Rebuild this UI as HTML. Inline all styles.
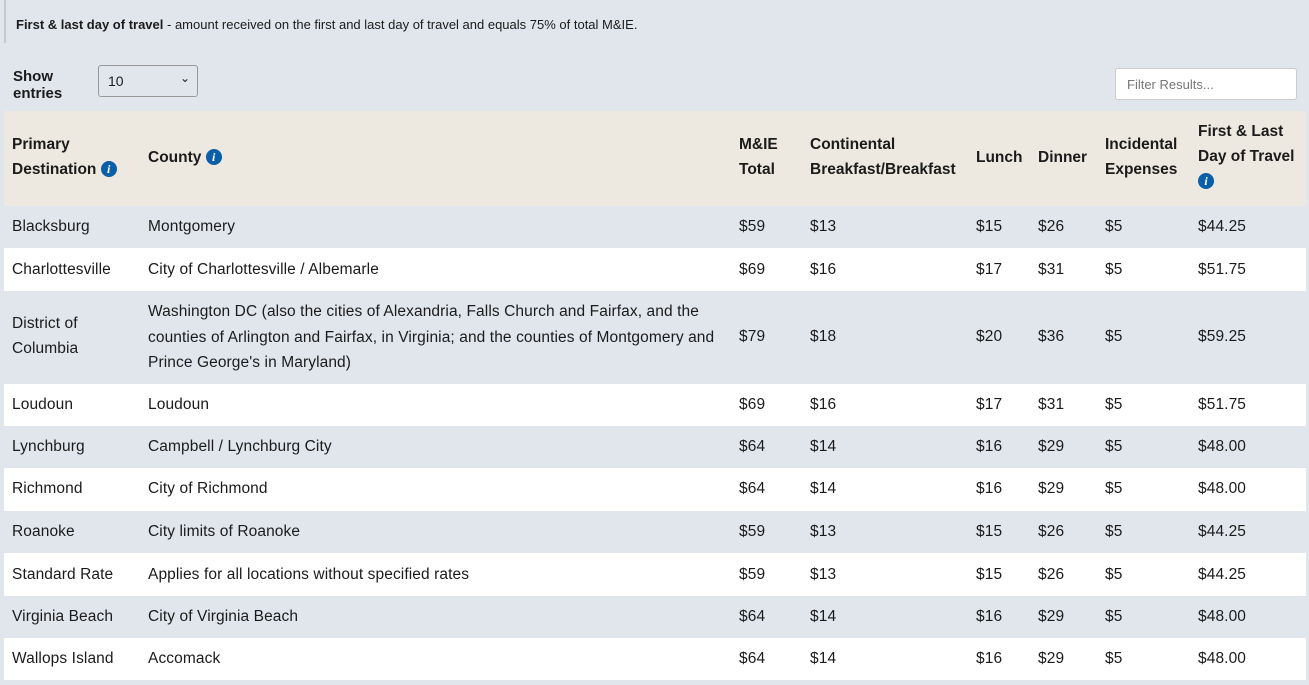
<!DOCTYPE html>
<html><head><style>
body{margin:0;width:1309px;height:685px;background:#e1e6ed;font-family:"Liberation Sans",sans-serif;color:#1b1b1b;position:relative;overflow:hidden}
.a{position:absolute}
.note{left:4px;top:0;width:1300px;height:43px;border-left:2px solid #c8c8c8;font-size:13px;letter-spacing:0px}
.note span{position:absolute;left:10px;top:17px;white-space:nowrap}
.row{position:absolute;left:4px;width:1302px}
.t{position:absolute;font-size:15.5px;letter-spacing:0.1px;white-space:nowrap}
.h{position:absolute;font-size:15.5px;font-weight:bold;letter-spacing:0px;line-height:25px}
.i{display:inline-block;width:16px;height:16px;border-radius:50%;background:#0b5ea8;color:#fff;font-size:12px;font-weight:bold;font-style:italic;text-align:center;line-height:16px;font-family:"Liberation Serif",serif;vertical-align:1px}
</style></head><body>
<div class="a note"><span><b>First &amp; last day of travel</b> - amount received on the first and last day of travel and equals 75% of total M&amp;IE.</span></div>
<div class="a" style="left:13px;top:68px;font-size:15px;font-weight:bold;line-height:17px">Show<br>entries</div>
<div class="a" style="left:98px;top:65px;width:98px;height:30px;border:1px solid #999;border-radius:3px;background:#e1e6ed;font-size:14px"><span style="position:absolute;left:9px;top:7px">10</span><span style="position:absolute;right:7px;top:5px;font-size:12px">&#8964;</span></div>
<div class="a" style="left:1115px;top:68px;width:180px;height:30px;border:1px solid #ccc;border-radius:3px;background:#fff;font-size:13px;color:#777"><span style="position:absolute;left:11px;top:8px">Filter Results...</span></div>

<div class="row" style="top:111px;height:95px;background:#ede9e0">
<div class="h" style="left:8px;top:21px">Primary<br>Destination <span class="i">i</span></div>
<div class="h" style="left:144px;top:34px">County <span class="i">i</span></div>
<div class="h" style="left:735px;top:21px">M&amp;IE<br>Total</div>
<div class="h" style="left:806px;top:21px">Continental<br>Breakfast/Breakfast</div>
<div class="h" style="left:972px;top:34px">Lunch</div>
<div class="h" style="left:1034px;top:34px">Dinner</div>
<div class="h" style="left:1101px;top:21px">Incidental<br>Expenses</div>
<div class="h" style="left:1194px;top:8px">First &amp; Last<br>Day of Travel<br><span class="i">i</span></div>
</div>

<div class="row" style="top:206px;height:42px;background:#e1e6ed"><div class="t" style="left:8px;top:12px">Blacksburg</div><div class="t" style="left:144px;top:12px">Montgomery</div><div class="t" style="left:735px;top:12px">$59</div><div class="t" style="left:806px;top:12px">$13</div><div class="t" style="left:972px;top:12px">$15</div><div class="t" style="left:1034px;top:12px">$26</div><div class="t" style="left:1101px;top:12px">$5</div><div class="t" style="left:1194px;top:12px">$44.25</div></div>
<div class="row" style="top:248px;height:43px;background:#fff"><div class="t" style="left:8px;top:13px">Charlottesville</div><div class="t" style="left:144px;top:13px">City of Charlottesville / Albemarle</div><div class="t" style="left:735px;top:13px">$69</div><div class="t" style="left:806px;top:13px">$16</div><div class="t" style="left:972px;top:13px">$17</div><div class="t" style="left:1034px;top:13px">$31</div><div class="t" style="left:1101px;top:13px">$5</div><div class="t" style="left:1194px;top:13px">$51.75</div></div>
<div class="row" style="top:291px;height:93px;background:#e1e6ed"><div class="t" style="left:8px;top:20px;line-height:25px">District of<br>Columbia</div><div class="t" style="left:144px;top:8px;line-height:25.5px">Washington DC (also the cities of Alexandria, Falls Church and Fairfax, and the<br>counties of Arlington and Fairfax, in Virginia; and the counties of Montgomery and<br>Prince George's in Maryland)</div><div class="t" style="left:735px;top:37px">$79</div><div class="t" style="left:806px;top:37px">$18</div><div class="t" style="left:972px;top:37px">$20</div><div class="t" style="left:1034px;top:37px">$36</div><div class="t" style="left:1101px;top:37px">$5</div><div class="t" style="left:1194px;top:37px">$59.25</div></div>
<div class="row" style="top:384px;height:42px;background:#fff"><div class="t" style="left:8px;top:12px">Loudoun</div><div class="t" style="left:144px;top:12px">Loudoun</div><div class="t" style="left:735px;top:12px">$69</div><div class="t" style="left:806px;top:12px">$16</div><div class="t" style="left:972px;top:12px">$17</div><div class="t" style="left:1034px;top:12px">$31</div><div class="t" style="left:1101px;top:12px">$5</div><div class="t" style="left:1194px;top:12px">$51.75</div></div>
<div class="row" style="top:426px;height:42px;background:#e1e6ed"><div class="t" style="left:8px;top:12px">Lynchburg</div><div class="t" style="left:144px;top:12px">Campbell / Lynchburg City</div><div class="t" style="left:735px;top:12px">$64</div><div class="t" style="left:806px;top:12px">$14</div><div class="t" style="left:972px;top:12px">$16</div><div class="t" style="left:1034px;top:12px">$29</div><div class="t" style="left:1101px;top:12px">$5</div><div class="t" style="left:1194px;top:12px">$48.00</div></div>
<div class="row" style="top:468px;height:43px;background:#fff"><div class="t" style="left:8px;top:12px">Richmond</div><div class="t" style="left:144px;top:12px">City of Richmond</div><div class="t" style="left:735px;top:12px">$64</div><div class="t" style="left:806px;top:12px">$14</div><div class="t" style="left:972px;top:12px">$16</div><div class="t" style="left:1034px;top:12px">$29</div><div class="t" style="left:1101px;top:12px">$5</div><div class="t" style="left:1194px;top:12px">$48.00</div></div>
<div class="row" style="top:511px;height:42px;background:#e1e6ed"><div class="t" style="left:8px;top:12px">Roanoke</div><div class="t" style="left:144px;top:12px">City limits of Roanoke</div><div class="t" style="left:735px;top:12px">$59</div><div class="t" style="left:806px;top:12px">$13</div><div class="t" style="left:972px;top:12px">$15</div><div class="t" style="left:1034px;top:12px">$26</div><div class="t" style="left:1101px;top:12px">$5</div><div class="t" style="left:1194px;top:12px">$44.25</div></div>
<div class="row" style="top:553px;height:43px;background:#fff"><div class="t" style="left:8px;top:13px">Standard Rate</div><div class="t" style="left:144px;top:13px">Applies for all locations without specified rates</div><div class="t" style="left:735px;top:13px">$59</div><div class="t" style="left:806px;top:13px">$13</div><div class="t" style="left:972px;top:13px">$15</div><div class="t" style="left:1034px;top:13px">$26</div><div class="t" style="left:1101px;top:13px">$5</div><div class="t" style="left:1194px;top:13px">$44.25</div></div>
<div class="row" style="top:596px;height:42px;background:#e1e6ed"><div class="t" style="left:8px;top:12px">Virginia Beach</div><div class="t" style="left:144px;top:12px">City of Virginia Beach</div><div class="t" style="left:735px;top:12px">$64</div><div class="t" style="left:806px;top:12px">$14</div><div class="t" style="left:972px;top:12px">$16</div><div class="t" style="left:1034px;top:12px">$29</div><div class="t" style="left:1101px;top:12px">$5</div><div class="t" style="left:1194px;top:12px">$48.00</div></div>
<div class="row" style="top:638px;height:42px;background:#fff"><div class="t" style="left:8px;top:12px">Wallops Island</div><div class="t" style="left:144px;top:12px">Accomack</div><div class="t" style="left:735px;top:12px">$64</div><div class="t" style="left:806px;top:12px">$14</div><div class="t" style="left:972px;top:12px">$16</div><div class="t" style="left:1034px;top:12px">$29</div><div class="t" style="left:1101px;top:12px">$5</div><div class="t" style="left:1194px;top:12px">$48.00</div></div>
</body></html>
